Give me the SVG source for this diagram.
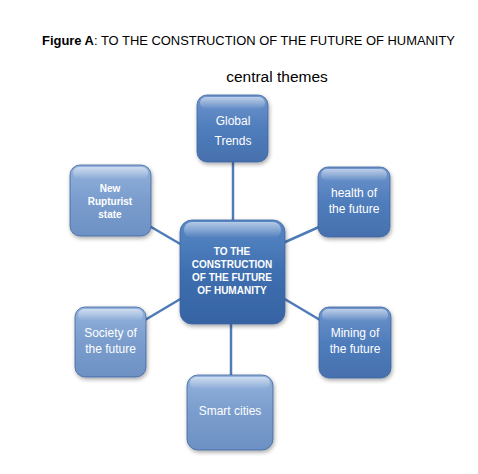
<svg xmlns="http://www.w3.org/2000/svg" width="478" height="474" viewBox="0 0 478 474">
<defs>
<linearGradient id="gDark" x1="0" y1="0" x2="0" y2="1">
<stop offset="0" stop-color="#6f95cc"/>
<stop offset="0.5" stop-color="#4f7dbc"/>
<stop offset="1" stop-color="#4670ad"/>
</linearGradient>
<linearGradient id="gLight" x1="0" y1="0" x2="0" y2="1">
<stop offset="0" stop-color="#93b2dc"/>
<stop offset="0.5" stop-color="#7a9dcd"/>
<stop offset="1" stop-color="#6d91c4"/>
</linearGradient>
<linearGradient id="gCenter" x1="0" y1="0" x2="0" y2="1">
<stop offset="0" stop-color="#5a88c6"/>
<stop offset="0.5" stop-color="#3e6fb0"/>
<stop offset="1" stop-color="#3663a3"/>
</linearGradient>
<linearGradient id="gHi" x1="0" y1="0" x2="0" y2="1">
<stop offset="0" stop-color="#ffffff" stop-opacity="0.55"/>
<stop offset="1" stop-color="#ffffff" stop-opacity="0"/>
</linearGradient>
<filter id="sh" x="-20%" y="-20%" width="150%" height="150%">
<feGaussianBlur in="SourceAlpha" stdDeviation="2"/>
<feOffset dx="1" dy="2"/>
<feComponentTransfer><feFuncA type="linear" slope="0.35"/></feComponentTransfer>
<feMerge><feMergeNode/><feMergeNode in="SourceGraphic"/></feMerge>
</filter>
</defs>
<style>
.box{stroke:#3d66a0;stroke-width:0.8;filter:url(#sh)}
.hi{fill:url(#gHi)}
.t{font-family:"Liberation Sans",Arial,sans-serif;font-size:12px;fill:#ffffff;text-anchor:middle}
.b{font-family:"Liberation Sans",Arial,sans-serif;font-size:10px;font-weight:bold;fill:#ffffff;text-anchor:middle}
.ln{stroke:#4f7cb8;stroke-width:2.5;fill:none}
.title{font-family:"Liberation Sans",Arial,sans-serif;font-size:12px;fill:#000000}
</style>
<rect width="478" height="474" fill="#ffffff"/>
<text class="title" x="42" y="45" textLength="413" lengthAdjust="spacingAndGlyphs"><tspan font-weight="bold">Figure A</tspan>: TO THE CONSTRUCTION OF THE FUTURE OF HUMANITY</text>
<text class="title" x="277" y="82" text-anchor="middle" style="font-size:15.5px">central themes</text>
<g id="connectors">
<line class="ln" x1="233" y1="162" x2="233" y2="222"/>
<line class="ln" x1="231" y1="323" x2="231" y2="377"/>
<line class="ln" x1="146" y1="224" x2="182" y2="245"/>
<line class="ln" x1="319" y1="227" x2="283" y2="243"/>
<line class="ln" x1="182" y1="298" x2="145" y2="320"/>
<line class="ln" x1="283" y1="298" x2="320" y2="320"/>
</g>
<g id="center">
<rect class="box" x="180" y="220" width="105" height="104" rx="12" fill="url(#gCenter)"/>
<rect class="hi" x="184" y="222" width="97" height="16" rx="8"/>
<text class="b" x="232" y="255">TO THE</text>
<text class="b" x="232" y="268">CONSTRUCTION</text>
<text class="b" x="232" y="281">OF THE FUTURE</text>
<text class="b" x="232" y="294">OF HUMANITY</text>
</g>
<g id="global-trends">
<rect class="box" x="197" y="95" width="71" height="67" rx="10" fill="url(#gDark)"/>
<rect class="hi" x="200" y="97" width="65" height="12" rx="6"/>
<text class="t" x="233" y="125">Global</text>
<text class="t" x="233" y="145">Trends</text>
</g>
<g id="new-rupturist-state">
<rect class="box" x="70" y="165" width="81" height="71" rx="10" fill="url(#gLight)"/>
<rect class="hi" x="73" y="167" width="75" height="12" rx="6"/>
<text class="b" x="110" y="192">New</text>
<text class="b" x="110" y="205">Rupturist</text>
<text class="b" x="110" y="218">state</text>
</g>
<g id="health-of-the-future">
<rect class="box" x="318" y="167" width="72" height="70" rx="10" fill="url(#gDark)"/>
<rect class="hi" x="321" y="169" width="66" height="12" rx="6"/>
<text class="t" x="354" y="197">health of</text>
<text class="t" x="354" y="213">the future</text>
</g>
<g id="society-of-the-future">
<rect class="box" x="75" y="307" width="71" height="70" rx="10" fill="url(#gLight)"/>
<rect class="hi" x="78" y="309" width="65" height="12" rx="6"/>
<text class="t" x="110.5" y="337">Society of</text>
<text class="t" x="110.5" y="353">the future</text>
</g>
<g id="mining-of-the-future">
<rect class="box" x="319" y="307" width="72" height="71" rx="10" fill="url(#gDark)"/>
<rect class="hi" x="322" y="309" width="66" height="12" rx="6"/>
<text class="t" x="355" y="337">Mining of</text>
<text class="t" x="355" y="353">the future</text>
</g>
<g id="smart-cities">
<rect class="box" x="187" y="375" width="86" height="75" rx="11" fill="url(#gLight)"/>
<rect class="hi" x="190" y="377" width="80" height="12" rx="6"/>
<text class="t" x="230" y="415">Smart cities</text>
</g>
</svg>
